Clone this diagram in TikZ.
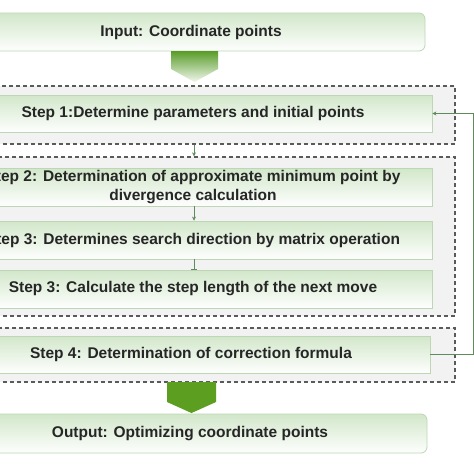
\documentclass[tikz,border=0pt]{standalone}
\usepackage{fontspec}
\setmainfont{Liberation Sans}
\usetikzlibrary{arrows.meta}
\definecolor{boxtop}{RGB}{210,231,202}
\definecolor{boxline}{RGB}{190,214,182}
\definecolor{dashfill}{RGB}{242,242,242}
\definecolor{dashline}{RGB}{90,90,90}
\definecolor{conncol}{RGB}{95,140,90}
\definecolor{chevtop}{RGB}{88,156,40}
\definecolor{chevsolid}{RGB}{92,158,32}
\begin{document}
\begin{tikzpicture}[x=1pt,y=-1pt,
  txt/.style={font=\bfseries\fontsize{15.5}{19}\selectfont, text=black!85, align=center},
  stepbox/.style={txt, draw=boxline, line width=0.8pt, top color=boxtop, bottom color=white!97!boxtop, inner sep=0pt, minimum width=478pt},
  endbox/.style={stepbox, rounded corners=6pt},
  dashbox/.style={draw=dashline, fill=dashfill, line width=1.3pt, dash pattern=on 4pt off 3pt, inner sep=0pt, minimum width=522pt},
  conn/.style={draw=conncol, line width=0.8pt, -{Stealth[length=4pt,width=4pt]}},
  connbar/.style={draw=conncol, line width=0.8pt, -{Bar[width=6pt]}}
]
\useasboundingbox (0,0) rectangle (474,474);
\clip (0,0) rectangle (474,474);
\fill[white] (0,0) rectangle (474,474);

% dashed groups
\node[dashbox, minimum height=58pt] (d1) at (194,115) {};
\node[dashbox, minimum height=159pt] (d2) at (194,236.5) {};
\node[dashbox, minimum height=54pt] (d3) at (194,355) {};

% boxes
\node[endbox, minimum width=468pt, minimum height=38pt] (in) at (191,32) {Input: Coordinate points};
\node[stepbox, minimum height=37pt] (s1) at (193,113.5) {Step 1:Determine parameters and initial points};
\node[stepbox, minimum height=38pt] (s2) at (193,187) {Step 2: Determination of approximate minimum point by\\divergence calculation};
\node[stepbox, minimum height=38pt] (s3) at (193,240) {Step 3: Determines search direction by matrix operation};
\node[stepbox, minimum height=38pt] (s3b) at (193,289) {Step 3: Calculate the step length of the next move};
\node[stepbox, minimum height=37pt, minimum width=478pt] (s4) at (191,354.5) {Step 4: Determination of correction formula};
\node[endbox, minimum width=474pt, minimum height=39pt] (out) at (190,433.5) {Output: Optimizing coordinate points};

% chevrons
\shade[top color=chevtop, bottom color=white!92!chevtop] (171,51) -- (218,51) -- (218,69) -- (194.5,82) -- (171,69) -- cycle;
\fill[chevsolid] (167,382) -- (216,382) -- (216,402) -- (191.5,413) -- (167,402) -- cycle;

% connectors
\draw[conn] (d1.south) -- (d2.north);
\draw[conn] (s2.south -| d1.south) -- (s3.north -| d1.south);
\draw[connbar] (s3.south -| d1.south) -- (s3b.north -| d1.south);
\coordinate (fbx) at (473,0);
\draw[conn] (s4.east) -- (s4.east -| fbx) |- (s1.east);
\end{tikzpicture}
\end{document}
